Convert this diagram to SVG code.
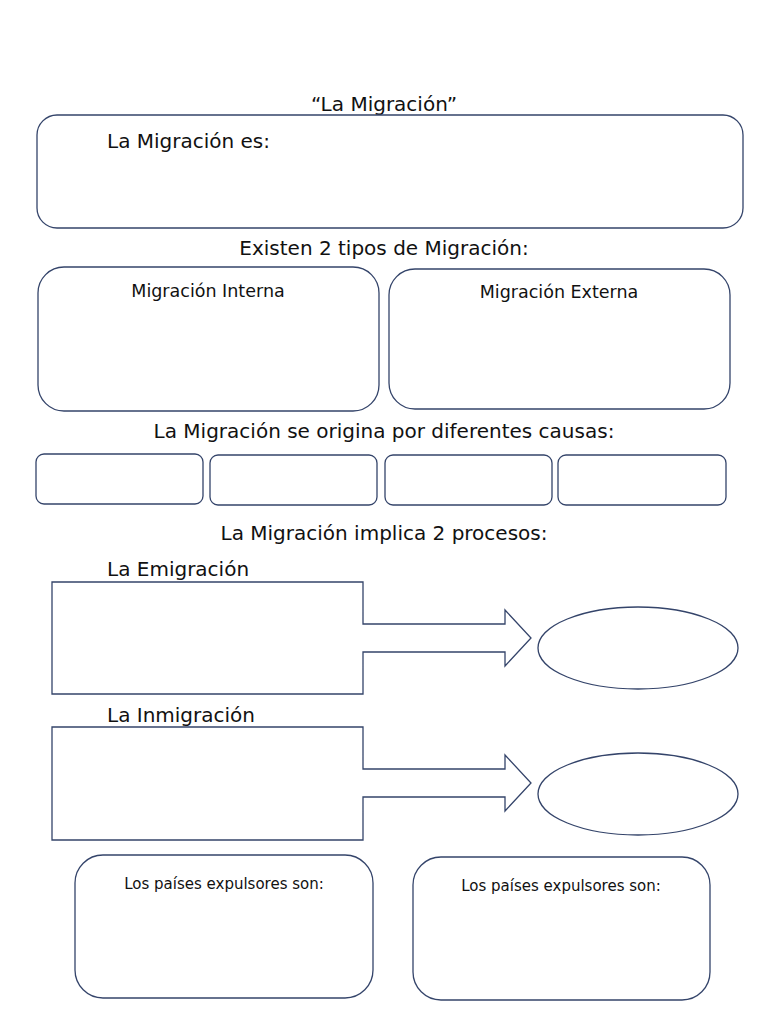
<svg xmlns="http://www.w3.org/2000/svg" width="768" height="1024" viewBox="0 0 768 1024">
<style>
.b{fill:#fff;stroke:#34446a;stroke-width:1.3}
.t{font-family:"DejaVu Sans",sans-serif;fill:#111}
.h{font-size:20px}
.m{font-size:17.5px}
.s{font-size:15px}
.c{text-anchor:middle}
</style>
<rect width="768" height="1024" fill="#fff"/>
<text class="t h c" x="384" y="111">“La Migración”</text>
<g id="def"><rect class="b" x="37" y="115" width="706" height="113" rx="20"/><text class="t h" x="107" y="148">La Migración es:</text></g>
<text class="t h c" x="384" y="255">Existen 2 tipos de Migración:</text>
<g id="interna"><rect class="b" x="38" y="267" width="341" height="144" rx="26"/><text class="t m c" x="208" y="297">Migración Interna</text></g>
<g id="externa"><rect class="b" x="389" y="269" width="341" height="140" rx="26"/><text class="t m c" x="559" y="298">Migración Externa</text></g>
<text class="t h c" x="384" y="438">La Migración se origina por diferentes causas:</text>
<g id="c1"><rect class="b" x="36" y="454" width="167" height="50" rx="8"/></g>
<g id="c2"><rect class="b" x="210" y="455" width="167" height="50" rx="8"/></g>
<g id="c3"><rect class="b" x="385" y="455" width="167" height="50" rx="8"/></g>
<g id="c4"><rect class="b" x="558" y="455" width="168" height="50" rx="8"/></g>
<text class="t h c" x="384" y="540">La Migración implica 2 procesos:</text>
<g id="emig"><text class="t h" x="107" y="576">La Emigración</text>
<path class="b" d="M52 582H363V624H505V610L531 638L505 666V652H363V694H52Z"/></g>
<g id="emigOut"><ellipse class="b" cx="638" cy="648" rx="100" ry="41"/></g>
<g id="inmig"><text class="t h" x="107" y="722">La Inmigración</text>
<path class="b" d="M52 727H363V769H505V755L531 783L505 811V797H363V840H52Z"/></g>
<g id="inmigOut"><ellipse class="b" cx="638" cy="794" rx="100" ry="41"/></g>
<g id="p1"><rect class="b" x="75" y="855" width="298" height="143" rx="28"/><text class="t s c" x="224" y="889">Los países expulsores son:</text></g>
<g id="p2"><rect class="b" x="413" y="857" width="297" height="143" rx="28"/><text class="t s c" x="561" y="891">Los países expulsores son:</text></g>
<g id="connectors"></g>
</svg>
